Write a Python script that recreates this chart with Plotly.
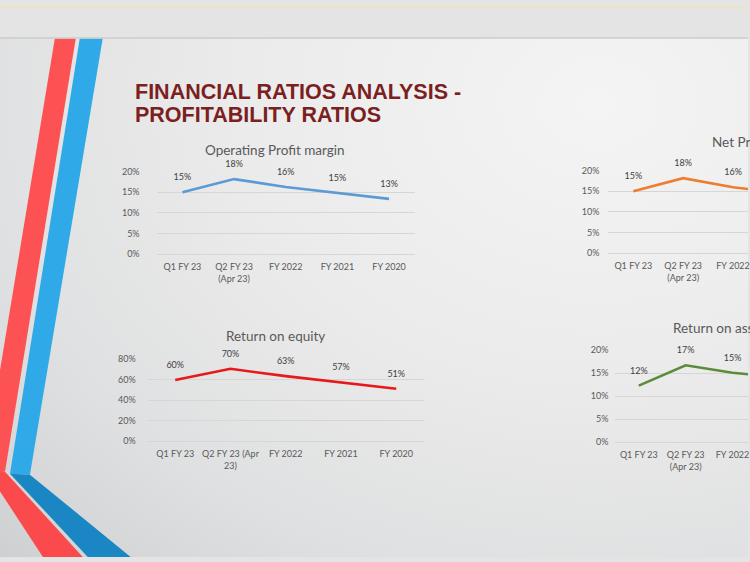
import plotly.graph_objects as go

W, H = 750, 562

# ---------------- data ----------------
categories = ["Q1 FY 23", "Q2 FY 23 (Apr 23)", "FY 2022", "FY 2021", "FY 2020"]
ticks_two_line = ["Q1 FY 23", "Q2 FY 23<br>(Apr 23)", "FY 2022", "FY 2021", "FY 2020"]
ticks_roe = ["Q1 FY 23", "Q2 FY 23 (Apr<br>23)", "FY 2022", "FY 2021", "FY 2020"]

operating_profit_margin = [15.0, 18.2, 16.3, 14.8, 13.4]
net_profit_margin = [15.0, 18.2, 16.0, 15.0, 13.0]
return_on_equity = [59.6, 70.4, 63.3, 57.2, 51.0]
return_on_assets = [12.3, 16.7, 15.1, 14.0, 13.0]

slide_title = ["FINANCIAL RATIOS ANALYSIS -", "PROFITABILITY RATIOS"]
chart_titles = ["Operating Profit margin", "Return on equity", "Net Profit margin", "Return on assets"]


def fx(p):
    return p / W


def fy(p):
    return 1 - p / H


fig = go.Figure()

# background gradient (slide)
fig.add_trace(go.Scatter(
    x=[-300, 1500, 1500, -300, -300], y=[-600, -600, 800, 800, -600],
    fill="toself", mode="none", hoverinfo="skip", showlegend=False,
    fillgradient=dict(type="radial", colorscale=[[0, "#f4f4f4"], [0.4, "#ebebeb"],
                                                  [0.7, "#dfe0e1"], [1, "#c9ccce"]]),
    xaxis="x", yaxis="y"))

TICKFONT = dict(family="Lato, Carlito, sans-serif", size=9, color="#595959")
GRID = "#d6d6d6"

charts = [
    # values, color, axis id, x px range, y px (top,bottom), ymax, dtick, xrange, ticktext, standoff
    (operating_profit_margin, "#5b9bd5", 2, (157, 416), (169, 253), 20, 5, [-0.5, 4.5], ticks_two_line, 16),
    (return_on_equity, "#e8191c", 3, (148, 425), (360, 444), 80, 20, [-0.5, 4.5], ticks_roe, 11),
    (net_profit_margin, "#ed7d31", 4, (610, 750), (168, 252), 20, 5, [-0.5, -0.5 + 140 / 50], ticks_two_line, 8),
    (return_on_assets, "#5b8c3a", 5, (617, 750), (351, 445), 20, 5, [-0.5, -0.5 + 133 / 47], ticks_two_line, 6),
]

layout_axes = {}
for vals, color, n, (x0, x1), (yt, yb), ymax, dtick, xr, ttext, so in charts:
    fig.add_trace(go.Scatter(
        x=categories, y=vals, mode="lines+markers+text",
        line=dict(color=color, width=2.6),
        marker=dict(size=14, color="rgba(0,0,0,0)"),
        text=[f"{v:.0f}%" for v in vals], textposition="top center",
        textfont=dict(family="Lato, Carlito, sans-serif", size=9, color="#404040"),
        cliponaxis=False, showlegend=False, hoverinfo="skip",
        xaxis=f"x{n}", yaxis=f"y{n}"))
    yticks = list(range(0, ymax + 1, dtick))
    layout_axes[f"xaxis{n}"] = dict(
        domain=[fx(x0), fx(x1)], anchor=f"y{n}", type="category",
        categoryorder="array", categoryarray=categories, range=xr,
        tickmode="array", tickvals=categories, ticktext=ttext, showgrid=False, showline=False,
        zeroline=False, ticks="", tickfont=TICKFONT, ticklabelstandoff=6, fixedrange=True)
    layout_axes[f"yaxis{n}"] = dict(
        domain=[fy(yb), fy(yt)], anchor=f"x{n}", range=[0, ymax],
        tickmode="array", tickvals=yticks, ticktext=[f"{v}%" for v in yticks],
        showgrid=True, gridcolor=GRID, gridwidth=1, zeroline=True,
        zerolinecolor=GRID, zerolinewidth=1, showline=False, ticks="",
        tickfont=TICKFONT, ticklabelstandoff=so, fixedrange=True)

annotations = [
    dict(text=slide_title[0], x=fx(133), y=fy(88), xanchor="left", yanchor="middle"),
    dict(text=slide_title[1], x=fx(133), y=fy(111), xanchor="left", yanchor="middle"),
]
for a in annotations:
    a.update(xref="paper", yref="paper", showarrow=False,
             font=dict(family="Liberation Sans, Arial, sans-serif", size=21.5,
                       color="#7b1f1f", weight="bold"))

TITLEFONT = dict(family="Lato, Carlito, sans-serif", size=13.5, color="#595959")
for txt, x, y, anchor in [(chart_titles[0], 276, 147, "center"), (chart_titles[1], 276, 337, "center"),
                          (chart_titles[2], 712, 139, "left"), (chart_titles[3], 673, 328, "left")]:
    annotations.append(dict(text=txt, x=fx(x), y=fy(y), xref="paper", yref="paper",
                            xanchor=anchor, yanchor="middle", showarrow=False, font=TITLEFONT))

# decorative slide stripes and top bar
def poly(pts):
    return "M " + " L ".join(f"{x},{y}" for x, y in pts) + " Z"

shapes = [
    dict(type="path", xref="x", yref="y", layer="above", line=dict(width=0), fillcolor="#fd5254",
         path=poly([(55, 33), (76, 33), (5, 475), (-16, 470)])),
    dict(type="path", xref="x", yref="y", layer="above", line=dict(width=0), fillcolor="#fb4a4b",
         path=poly([(5, 475), (83, 562), (43, 562), (-2, 492), (-16, 470)])),
    dict(type="path", xref="x", yref="y", layer="above", line=dict(width=0), fillcolor="#2fa9e8",
         path=poly([(80, 33), (103, 33), (30, 478), (10, 477)])),
    dict(type="path", xref="x", yref="y", layer="above", line=dict(width=0), fillcolor="#1b86c4",
         path=poly([(10, 477), (30, 478), (131, 562), (88, 562)])),
    dict(type="rect", xref="paper", yref="paper", layer="above", line=dict(width=0),
         fillcolor="#e8e4c4", x0=0, x1=1, y0=fy(2), y1=1),
    dict(type="rect", xref="paper", yref="paper", layer="above", line=dict(width=0),
         fillcolor="#cdcdcd", x0=0, x1=1, y0=fy(33.5), y1=fy(32)),
]

fig.update_layout(
    width=W, height=H, margin=dict(l=0, r=0, t=0, b=0),
    paper_bgcolor="#e4e4e4", plot_bgcolor="rgba(0,0,0,0)",
    xaxis=dict(domain=[0, 1], range=[0, W], visible=False, fixedrange=True),
    yaxis=dict(domain=[0, fy(33)], range=[H, 33], visible=False, fixedrange=True),
    annotations=annotations, shapes=shapes, showlegend=False,
    **layout_axes)

fig.write_html("out.html")
